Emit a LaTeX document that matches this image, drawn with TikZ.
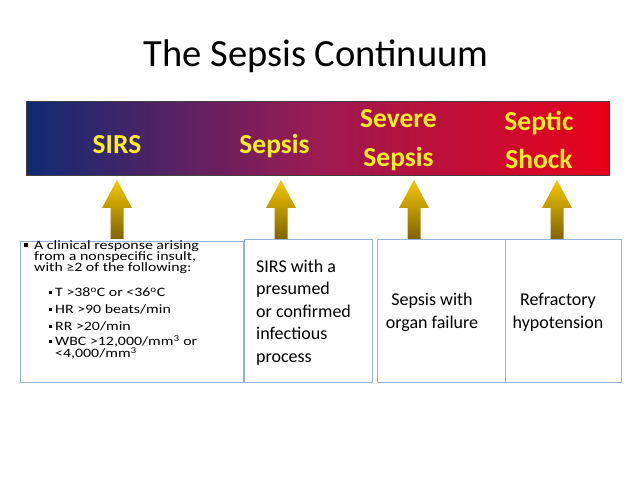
\documentclass[tikz,border=0pt]{standalone}
\usepackage{fontspec}
\setmainfont{Carlito}
\newfontfamily\criteriafont[FakeStretch=1.24]{Carlito}

\definecolor{sirsblue}{RGB}{16,42,116}
\definecolor{sepsismid}{RGB}{156,26,82}
\definecolor{shockred}{RGB}{232,0,26}
\definecolor{labelyellow}{RGB}{250,236,40}
\definecolor{arrowgold}{RGB}{246,199,0}
\definecolor{arrowdark}{RGB}{128,100,0}
\definecolor{boxblue}{RGB}{149,179,215}

\newcommand{\sqbullet}{\rule[2.5pt]{3.5pt}{3.5pt}}

\tikzset{
  stagelabel/.style={text=labelyellow, font=\fontsize{27.5}{38.5}\selectfont\bfseries, anchor=base, inner sep=0pt},
  infobox/.style={draw=boxblue, line width=0.8pt, anchor=north west, inner sep=0pt},
  smalltext/.style={font=\criteriafont\fontsize{12.8}{10}\selectfont, anchor=base west, inner sep=0pt},
  boxtext/.style={font=\fontsize{18}{22.5}\selectfont, inner sep=0pt},
  goldarrow/.style={top color=arrowgold, bottom color=arrowdark, draw=none}
}

\begin{document}
\begin{tikzpicture}[x=1pt,y=-1pt]
    \useasboundingbox (0,0) rectangle (638,478);

    \node[font=\fontsize{38.5}{46}\selectfont, anchor=base, inner sep=0pt] (title) at (316,67) {The Sepsis Continuum};

    % continuum bar
    \node[draw=black!75, line width=0.75pt, left color=sirsblue, right color=shockred, middle color=sepsismid,
          minimum width=583pt, minimum height=74pt, anchor=north west, inner sep=0pt] (bar) at (26,101) {};
    \node[stagelabel] (sirs) at (117,154) {SIRS};
    \node[stagelabel] (sepsis) at (274.5,154) {Sepsis};
    \node[stagelabel] (severe) at (398.5,128) {Severe};
    \node[stagelabel] (severesepsis) at (398.5,167) {Sepsis};
    \node[stagelabel] (septic) at (539,131) {Septic};
    \node[stagelabel] (shock) at (539,169) {Shock};

    % block arrows
    \foreach \n/\x in {1/117,2/281,3/414,4/557}{
      \coordinate (tip\n) at (\x,180);
      \shade[goldarrow] (tip\n) -- ++(15,28) -- ++(-8.5,0) -- ++(0,31) -- ++(-13,0) -- ++(0,-31) -- ++(-8.5,0) -- cycle;
    }

    % definition boxes
    \node[infobox, minimum width=223pt, minimum height=141pt] (sirsbox) at (20,241) {};
    \node[infobox, minimum width=128pt, minimum height=143pt] (sepsisbox) at (244,239) {};
    \node[infobox, minimum width=128pt, minimum height=143pt] (severebox) at (377,239) {};
    \node[infobox, minimum width=116pt, minimum height=143pt] (shockbox) at (505,239) {};

    \node[smalltext] (sirs1) at (24,249.5) {\makebox[10pt][l]{\sqbullet}A clinical response arising};
    \node[smalltext] (sirs2) at (34,260.5) {from a nonspecific insult,};
    \node[smalltext] (sirs3) at (34,271.5) {with ≥2 of the following:};
    \node[smalltext] (temp) at (48.5,297) {\makebox[6.5pt][l]{\sqbullet}T >38\textsuperscript{o}C or <36\textsuperscript{o}C};
    \node[smalltext] (hr) at (48.5,314) {\makebox[6.5pt][l]{\sqbullet}HR >90 beats/min};
    \node[smalltext] (rr) at (48.5,331) {\makebox[6.5pt][l]{\sqbullet}RR >20/min};
    \node[smalltext] (wbc) at (48.5,346) {\makebox[6.5pt][l]{\sqbullet}WBC >12,000/mm\textsuperscript{3} or};
    \node[smalltext] (wbc2) at (55,357.5) {<4,000/mm\textsuperscript{3}};

    \node[boxtext, align=left, anchor=north west] (sepsisdef) at (256,259.5) {SIRS with a\\presumed\\or confirmed\\infectious\\process};
    \node[boxtext, align=center] (severedef) at (432,312.5) {Sepsis with\\organ failure};
    \node[boxtext, align=center] (shockdef) at (558,312.5) {Refractory\\hypotension};
\end{tikzpicture}
\end{document}
